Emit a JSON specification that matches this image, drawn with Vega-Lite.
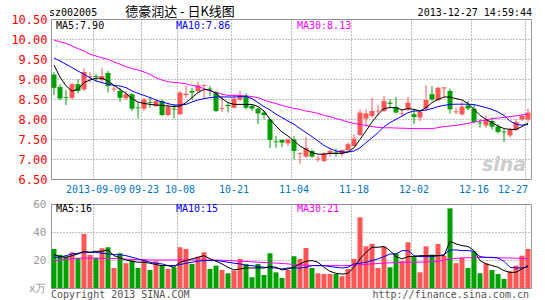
{
  "$schema": "https://vega.github.io/schema/vega-lite/v6.json",
  "background": "white",
  "padding": {"left": 10, "top": 5, "right": 5, "bottom": 4},
  "bounds": "flush",
  "spacing": 25,
  "config": {
    "view": {"stroke": "#999999", "strokeWidth": 1},
    "axis": {"domain": false, "ticks": false, "tickSize": 0, "title": null, "gridDash": [1, 2], "gridColor": "#808080", "gridOpacity": 1, "gridWidth": 1, "labelFont": "DejaVu Sans Mono", "labelOverlap": false},
    "text": {"font": "DejaVu Sans Mono", "fontSize": 10, "baseline": "middle"}
  },
  "datasets": {
    "k": [
      {"d":"2013-08-29","o":9.11,"h":9.17,"l":8.60,"c":8.78,"v":27.9,"m5":9.35,"m10":9.53,"m30":9.975,"vm5":23.8,"vm10":22.0,"vm30":19.5},
      {"d":"2013-08-30","o":8.80,"h":8.87,"l":8.47,"c":8.51,"v":23.8,"m5":9.05,"m10":9.45,"m30":9.93,"vm5":22.4,"vm10":22.0,"vm30":20.0},
      {"d":"2013-09-02","o":8.55,"h":8.72,"l":8.35,"c":8.53,"v":22.4,"m5":8.83,"m10":9.37,"m30":9.89,"vm5":21.9,"vm10":23.1,"vm30":20.5},
      {"d":"2013-09-03","o":8.53,"h":8.91,"l":8.49,"c":8.87,"v":25.5,"m5":8.70,"m10":9.285,"m30":9.825,"vm5":23.1,"vm10":24.3,"vm30":21.0},
      {"d":"2013-09-04","o":8.87,"h":8.99,"l":8.64,"c":8.70,"v":21.5,"m5":8.74,"m10":9.20,"m30":9.76,"vm5":24.3,"vm10":24.8,"vm30":21.2},
      {"d":"2013-09-05","o":8.74,"h":9.27,"l":8.70,"c":9.175,"v":38.6,"m5":8.91,"m10":9.115,"m30":9.70,"vm5":26.2,"vm10":25.5,"vm30":21.4},
      {"d":"2013-09-06","o":9.05,"h":9.175,"l":8.91,"c":9.07,"v":23.6,"m5":8.975,"m10":9.03,"m30":9.62,"vm5":25.5,"vm10":25.5,"vm30":21.4},
      {"d":"2013-09-09","o":9.07,"h":9.13,"l":8.93,"c":9.05,"v":21.5,"m5":9.02,"m10":8.95,"m30":9.575,"vm5":26.2,"vm10":25.5,"vm30":21.4},
      {"d":"2013-09-10","o":8.975,"h":9.28,"l":8.93,"c":9.075,"v":28.4,"m5":9.02,"m10":8.91,"m30":9.53,"vm5":26.2,"vm10":24.8,"vm30":21.2},
      {"d":"2013-09-11","o":9.15,"h":9.20,"l":8.66,"c":8.825,"v":29.1,"m5":8.95,"m10":8.87,"m30":9.49,"vm5":27.2,"vm10":24.3,"vm30":21.2},
      {"d":"2013-09-12","o":8.74,"h":8.84,"l":8.68,"c":8.76,"v":14.3,"m5":8.84,"m10":8.84,"m30":9.425,"vm5":23.1,"vm10":23.8,"vm30":21.0},
      {"d":"2013-09-13","o":8.70,"h":8.78,"l":8.43,"c":8.53,"v":24.8,"m5":8.74,"m10":8.825,"m30":9.37,"vm5":21.5,"vm10":23.8,"vm30":20.8},
      {"d":"2013-09-16","o":8.52,"h":8.70,"l":8.47,"c":8.62,"v":17.7,"m5":8.64,"m10":8.785,"m30":9.31,"vm5":20.0,"vm10":23.1,"vm30":20.6},
      {"d":"2013-09-17","o":8.62,"h":8.64,"l":8.20,"c":8.26,"v":19.6,"m5":8.51,"m10":8.70,"m30":9.26,"vm5":19.1,"vm10":22.0,"vm30":20.4},
      {"d":"2013-09-18","o":8.29,"h":8.41,"l":8.01,"c":8.27,"v":14.3,"m5":8.425,"m10":8.64,"m30":9.225,"vm5":18.4,"vm10":20.8,"vm30":20.2},
      {"d":"2013-09-23","o":8.26,"h":8.53,"l":8.20,"c":8.49,"v":20.8,"m5":8.39,"m10":8.59,"m30":9.175,"vm5":18.4,"vm10":19.6,"vm30":20.0},
      {"d":"2013-09-24","o":8.42,"h":8.55,"l":8.28,"c":8.40,"v":12.9,"m5":8.365,"m10":8.535,"m30":9.115,"vm5":17.7,"vm10":18.4,"vm30":20.0},
      {"d":"2013-09-25","o":8.32,"h":8.49,"l":8.31,"c":8.45,"v":19.1,"m5":8.35,"m10":8.475,"m30":9.03,"vm5":16.7,"vm10":17.7,"vm30":20.0},
      {"d":"2013-09-26","o":8.45,"h":8.49,"l":8.07,"c":8.10,"v":16.0,"m5":8.34,"m10":8.425,"m30":8.975,"vm5":16.0,"vm10":17.2,"vm30":20.0},
      {"d":"2013-09-27","o":8.10,"h":8.41,"l":8.07,"c":8.30,"v":13.6,"m5":8.325,"m10":8.385,"m30":8.93,"vm5":16.0,"vm10":16.0,"vm30":20.0},
      {"d":"2013-09-30","o":8.26,"h":8.37,"l":8.01,"c":8.24,"v":14.8,"m5":8.31,"m10":8.35,"m30":8.915,"vm5":14.8,"vm10":16.0,"vm30":20.0},
      {"d":"2013-10-08","o":8.12,"h":8.70,"l":8.10,"c":8.66,"v":29.1,"m5":8.325,"m10":8.35,"m30":8.90,"vm5":18.4,"vm10":16.7,"vm30":20.0},
      {"d":"2013-10-09","o":8.60,"h":8.83,"l":8.53,"c":8.63,"v":27.9,"m5":8.41,"m10":8.365,"m30":8.88,"vm5":19.6,"vm10":17.7,"vm30":20.0},
      {"d":"2013-10-10","o":8.70,"h":8.78,"l":8.49,"c":8.66,"v":17.2,"m5":8.535,"m10":8.425,"m30":8.84,"vm5":20.8,"vm10":18.4,"vm30":20.0},
      {"d":"2013-10-11","o":8.70,"h":8.925,"l":8.66,"c":8.84,"v":22.4,"m5":8.66,"m10":8.475,"m30":8.81,"vm5":21.9,"vm10":19.1,"vm30":20.0},
      {"d":"2013-10-14","o":8.83,"h":8.87,"l":8.51,"c":8.85,"v":25.5,"m5":8.74,"m10":8.51,"m30":8.76,"vm5":23.1,"vm10":19.6,"vm30":20.0},
      {"d":"2013-10-15","o":8.76,"h":8.83,"l":8.575,"c":8.74,"v":13.6,"m5":8.725,"m10":8.535,"m30":8.70,"vm5":20.8,"vm10":19.6,"vm30":20.0},
      {"d":"2013-10-16","o":8.675,"h":8.70,"l":8.175,"c":8.20,"v":16.0,"m5":8.64,"m10":8.55,"m30":8.66,"vm5":19.1,"vm10":19.6,"vm30":20.0},
      {"d":"2013-10-17","o":8.25,"h":8.575,"l":8.175,"c":8.27,"v":12.9,"m5":8.51,"m10":8.55,"m30":8.62,"vm5":17.2,"vm10":19.1,"vm30":19.8},
      {"d":"2013-10-18","o":8.35,"h":8.41,"l":8.16,"c":8.32,"v":10.5,"m5":8.41,"m10":8.55,"m30":8.59,"vm5":14.8,"vm10":18.4,"vm30":19.6},
      {"d":"2013-10-21","o":8.28,"h":8.62,"l":8.26,"c":8.51,"v":12.4,"m5":8.365,"m10":8.55,"m30":8.59,"vm5":12.9,"vm10":17.7,"vm30":19.4},
      {"d":"2013-10-22","o":8.49,"h":8.70,"l":8.45,"c":8.59,"v":20.8,"m5":8.365,"m10":8.56,"m30":8.59,"vm5":13.6,"vm10":17.2,"vm30":19.2},
      {"d":"2013-10-23","o":8.59,"h":8.64,"l":8.24,"c":8.28,"v":17.2,"m5":8.365,"m10":8.56,"m30":8.575,"vm5":14.3,"vm10":16.0,"vm30":19.0},
      {"d":"2013-10-24","o":8.33,"h":8.37,"l":8.20,"c":8.26,"v":7.7,"m5":8.365,"m10":8.51,"m30":8.56,"vm5":14.3,"vm10":16.0,"vm30":18.7},
      {"d":"2013-10-25","o":8.26,"h":8.28,"l":7.87,"c":8.14,"v":17.2,"m5":8.31,"m10":8.41,"m30":8.535,"vm5":14.3,"vm10":15.3,"vm30":18.4},
      {"d":"2013-10-28","o":8.16,"h":8.20,"l":7.99,"c":8.10,"v":9.3,"m5":8.20,"m10":8.31,"m30":8.475,"vm5":14.3,"vm10":14.8,"vm30":18.2},
      {"d":"2013-10-29","o":7.99,"h":8.01,"l":7.27,"c":7.475,"v":24.8,"m5":7.99,"m10":8.225,"m30":8.425,"vm5":15.3,"vm10":14.3,"vm30":18.0},
      {"d":"2013-10-30","o":7.44,"h":7.575,"l":7.28,"c":7.42,"v":11.2,"m5":7.825,"m10":8.12,"m30":8.385,"vm5":14.8,"vm10":14.3,"vm30":17.8},
      {"d":"2013-10-31","o":7.475,"h":7.49,"l":7.30,"c":7.41,"v":7.2,"m5":7.675,"m10":8.035,"m30":8.34,"vm5":12.9,"vm10":13.6,"vm30":17.5},
      {"d":"2013-11-01","o":7.39,"h":7.51,"l":7.33,"c":7.49,"v":12.9,"m5":7.575,"m10":7.95,"m30":8.30,"vm5":13.6,"vm10":14.3,"vm30":17.2},
      {"d":"2013-11-04","o":7.49,"h":7.575,"l":6.99,"c":7.20,"v":22.7,"m5":7.45,"m10":7.87,"m30":8.265,"vm5":14.8,"vm10":14.3,"vm30":16.8},
      {"d":"2013-11-05","o":7.13,"h":7.16,"l":6.88,"c":7.15,"v":20.8,"m5":7.325,"m10":7.76,"m30":8.24,"vm5":17.2,"vm10":14.3,"vm30":16.5},
      {"d":"2013-11-06","o":7.06,"h":7.55,"l":7.03,"c":7.28,"v":28.6,"m5":7.24,"m10":7.66,"m30":8.20,"vm5":19.1,"vm10":14.8,"vm30":16.3},
      {"d":"2013-11-07","o":7.20,"h":7.24,"l":7.03,"c":7.06,"v":14.3,"m5":7.16,"m10":7.56,"m30":8.175,"vm5":19.6,"vm10":16.0,"vm30":16.1},
      {"d":"2013-11-08","o":6.99,"h":7.08,"l":6.925,"c":7.01,"v":10.5,"m5":7.12,"m10":7.45,"m30":8.14,"vm5":18.4,"vm10":16.0,"vm30":16.0},
      {"d":"2013-11-11","o":6.95,"h":7.175,"l":6.925,"c":7.14,"v":10.0,"m5":7.12,"m10":7.34,"m30":8.09,"vm5":14.8,"vm10":16.0,"vm30":16.0},
      {"d":"2013-11-12","o":7.14,"h":7.24,"l":7.06,"c":7.20,"v":10.0,"m5":7.14,"m10":7.26,"m30":8.06,"vm5":11.9,"vm10":15.3,"vm30":16.0},
      {"d":"2013-11-13","o":7.18,"h":7.26,"l":7.06,"c":7.16,"v":10.0,"m5":7.14,"m10":7.20,"m30":8.01,"vm5":10.5,"vm10":14.8,"vm30":16.0},
      {"d":"2013-11-14","o":7.14,"h":7.24,"l":7.06,"c":7.225,"v":8.4,"m5":7.14,"m10":7.175,"m30":7.975,"vm5":10.0,"vm10":14.3,"vm30":16.0},
      {"d":"2013-11-15","o":7.225,"h":7.41,"l":7.20,"c":7.37,"v":13.6,"m5":7.175,"m10":7.175,"m30":7.925,"vm5":10.5,"vm10":14.8,"vm30":16.0},
      {"d":"2013-11-18","o":7.325,"h":7.62,"l":7.31,"c":7.51,"v":20.8,"m5":7.28,"m10":7.20,"m30":7.89,"vm5":14.8,"vm10":17.2,"vm30":16.3},
      {"d":"2013-11-19","o":7.60,"h":8.24,"l":7.575,"c":8.16,"v":50.5,"m5":7.49,"m10":7.28,"m30":7.865,"vm5":20.8,"vm10":17.7,"vm30":16.6},
      {"d":"2013-11-20","o":8.01,"h":8.24,"l":7.81,"c":8.14,"v":29.8,"m5":7.70,"m10":7.41,"m30":7.84,"vm5":25.5,"vm10":18.4,"vm30":16.9},
      {"d":"2013-11-21","o":8.075,"h":8.53,"l":8.035,"c":8.20,"v":31.5,"m5":7.925,"m10":7.53,"m30":7.81,"vm5":29.1,"vm10":19.6,"vm30":17.2},
      {"d":"2013-11-22","o":8.19,"h":8.34,"l":8.075,"c":8.21,"v":14.3,"m5":8.115,"m10":7.66,"m30":7.79,"vm5":29.1,"vm10":20.8,"vm30":17.5},
      {"d":"2013-11-25","o":8.20,"h":8.575,"l":8.175,"c":8.45,"v":29.6,"m5":8.26,"m10":7.81,"m30":7.78,"vm5":29.6,"vm10":22.4,"vm30":17.8},
      {"d":"2013-11-26","o":8.41,"h":8.49,"l":8.28,"c":8.38,"v":14.8,"m5":8.285,"m10":7.91,"m30":7.78,"vm5":26.7,"vm10":24.3,"vm30":18.0},
      {"d":"2013-11-27","o":8.30,"h":8.55,"l":8.14,"c":8.16,"v":24.8,"m5":8.285,"m10":7.99,"m30":7.775,"vm5":22.4,"vm10":24.3,"vm30":18.2},
      {"d":"2013-11-28","o":8.12,"h":8.24,"l":8.075,"c":8.14,"v":19.1,"m5":8.225,"m10":8.075,"m30":7.77,"vm5":20.8,"vm10":26.7,"vm30":18.4},
      {"d":"2013-11-29","o":8.24,"h":8.55,"l":8.20,"c":8.41,"v":32.7,"m5":8.26,"m10":8.16,"m30":7.765,"vm5":22.4,"vm10":26.7,"vm30":18.4},
      {"d":"2013-12-02","o":8.12,"h":8.24,"l":7.87,"c":8.05,"v":22.0,"m5":8.24,"m10":8.20,"m30":7.76,"vm5":22.4,"vm10":23.1,"vm30":18.4},
      {"d":"2013-12-03","o":8.035,"h":8.20,"l":7.95,"c":8.175,"v":11.2,"m5":8.20,"m10":8.20,"m30":7.76,"vm5":23.1,"vm10":22.4,"vm30":18.5},
      {"d":"2013-12-04","o":8.26,"h":8.84,"l":8.20,"c":8.475,"v":29.8,"m5":8.285,"m10":8.225,"m30":7.76,"vm5":23.1,"vm10":22.4,"vm30":18.6},
      {"d":"2013-12-05","o":8.62,"h":8.825,"l":8.45,"c":8.49,"v":23.8,"m5":8.41,"m10":8.26,"m30":7.76,"vm5":23.1,"vm10":22.4,"vm30":18.8},
      {"d":"2013-12-06","o":8.475,"h":8.80,"l":8.45,"c":8.78,"v":31.5,"m5":8.49,"m10":8.31,"m30":7.785,"vm5":23.1,"vm10":23.1,"vm30":19.2},
      {"d":"2013-12-09","o":8.765,"h":8.79,"l":8.54,"c":8.79,"v":23.1,"m5":8.55,"m10":8.34,"m30":7.81,"vm5":23.1,"vm10":23.8,"vm30":20.0},
      {"d":"2013-12-10","o":8.70,"h":8.76,"l":8.135,"c":8.24,"v":56.9,"m5":8.55,"m10":8.365,"m30":7.825,"vm5":33.4,"vm10":27.2,"vm30":20.8},
      {"d":"2013-12-11","o":8.17,"h":8.28,"l":8.115,"c":8.19,"v":17.7,"m5":8.51,"m10":8.37,"m30":7.84,"vm5":31.5,"vm10":27.2,"vm30":21.2},
      {"d":"2013-12-12","o":8.115,"h":8.425,"l":8.09,"c":8.31,"v":21.5,"m5":8.475,"m10":8.37,"m30":7.865,"vm5":30.3,"vm10":26.7,"vm30":21.5},
      {"d":"2013-12-13","o":8.34,"h":8.45,"l":8.225,"c":8.26,"v":14.3,"m5":8.39,"m10":8.37,"m30":7.89,"vm5":29.6,"vm10":26.7,"vm30":21.6},
      {"d":"2013-12-16","o":8.26,"h":8.37,"l":7.89,"c":7.925,"v":26.2,"m5":8.24,"m10":8.36,"m30":7.925,"vm5":26.7,"vm10":26.2,"vm30":21.7},
      {"d":"2013-12-17","o":7.91,"h":7.99,"l":7.78,"c":7.89,"v":10.5,"m5":8.09,"m10":8.325,"m30":7.95,"vm5":19.6,"vm10":22.4,"vm30":21.8},
      {"d":"2013-12-18","o":7.84,"h":8.09,"l":7.78,"c":7.975,"v":17.7,"m5":7.99,"m10":8.285,"m30":7.975,"vm5":17.2,"vm10":21.9,"vm30":21.8},
      {"d":"2013-12-19","o":7.95,"h":8.035,"l":7.74,"c":7.81,"v":12.9,"m5":7.91,"m10":8.24,"m30":8.01,"vm5":16.0,"vm10":21.9,"vm30":21.7},
      {"d":"2013-12-20","o":7.81,"h":7.87,"l":7.64,"c":7.675,"v":10.0,"m5":7.825,"m10":8.175,"m30":8.025,"vm5":14.8,"vm10":21.4,"vm30":21.6},
      {"d":"2013-12-23","o":7.685,"h":7.74,"l":7.425,"c":7.665,"v":6.5,"m5":7.76,"m10":8.09,"m30":8.04,"vm5":12.4,"vm10":19.1,"vm30":21.5},
      {"d":"2013-12-24","o":7.59,"h":7.785,"l":7.535,"c":7.725,"v":11.9,"m5":7.74,"m10":7.95,"m30":8.06,"vm5":11.2,"vm10":14.8,"vm30":21.4},
      {"d":"2013-12-25","o":7.725,"h":7.99,"l":7.70,"c":7.925,"v":16.0,"m5":7.74,"m10":7.87,"m30":8.08,"vm5":11.2,"vm10":14.3,"vm30":21.3},
      {"d":"2013-12-26","o":7.99,"h":8.12,"l":7.95,"c":8.075,"v":23.1,"m5":7.81,"m10":7.845,"m30":8.10,"vm5":13.6,"vm10":14.3,"vm30":21.2},
      {"d":"2013-12-27","o":7.99,"h":8.26,"l":7.925,"c":8.16,"v":27.9,"m5":7.90,"m10":7.86,"m30":8.13,"vm5":16.0,"vm10":15.2,"vm30":21.1}
    ]
  },
  "vconcat": [
    {
      "width": 480,
      "height": 160,
      "data": {"name": "k"},
      "encoding": {
        "x": {
          "field": "d", "type": "ordinal",
          "scale": {"paddingInner": 0.17, "paddingOuter": 0.085},
          "axis": {
            "values": ["2013-09-09","2013-09-23","2013-10-08","2013-10-21","2013-11-04","2013-11-18","2013-12-02","2013-12-16","2013-12-27"],
            "labelExpr": "datum.value == '2013-09-09' ? datum.value : slice(datum.value, 5)",
            "bandPosition": 0, "grid": true, "labelAngle": 0, "labelOverlap": false,
            "labelColor": "#0078c8", "labelFontSize": 10, "labelPadding": 5,
            "labelAlign": {"condition": {"test": "datum.value == '2013-12-27'", "value": "right"}, "value": "center"}
          }
        }
      },
      "layer": [
        {
          "mark": {"type": "rule", "strokeWidth": 1},
          "encoding": {
            "y": {"field": "l", "type": "quantitative", "scale": {"domain": [6.5, 10.5], "nice": false, "zero": false},
                  "axis": {"values": [6.5, 7, 7.5, 8, 8.5, 9, 9.5, 10, 10.5], "tickCount": 20, "format": ".2f", "grid": true, "labelOverlap": false, "labelColor": "#ff0000", "labelFontSize": 12, "labelPadding": 4}},
            "y2": {"field": "h"},
            "color": {"condition": {"test": "datum.c >= datum.o", "value": "#ff5555"}, "value": "#00a000"}
          }
        },
        {
          "mark": {"type": "bar"},
          "encoding": {
            "y": {"field": "o", "type": "quantitative"},
            "y2": {"field": "c"},
            "color": {"condition": {"test": "datum.c >= datum.o", "value": "#ff5555"}, "value": "#00a000"}
          }
        },
        {"mark": {"type": "line", "color": "#ff00ff", "strokeWidth": 1}, "encoding": {"y": {"field": "m30", "type": "quantitative"}}},
        {"mark": {"type": "line", "color": "#0000ff", "strokeWidth": 1}, "encoding": {"y": {"field": "m10", "type": "quantitative"}}},
        {"mark": {"type": "line", "color": "#000000", "strokeWidth": 1}, "encoding": {"y": {"field": "m5", "type": "quantitative"}}},
        {
          "data": {"values": [{"t": "sina"}]},
          "mark": {"type": "text", "font": "DejaVu Sans", "fontSize": 19, "fontStyle": "italic", "fontWeight": "bold", "color": "#cccccc"},
          "encoding": {"x": {"datum": "2013-12-23"}, "y": {"datum": 6.85}, "text": {"field": "t"}}
        },
        {
          "data": {"values": [{"t": "sz002005"}]},
          "mark": {"type": "text", "align": "left", "dx": -5, "dy": -6, "color": "#000000"},
          "encoding": {"x": {"datum": "2013-08-29"}, "y": {"datum": 10.5}, "text": {"field": "t"}}
        },
        {
          "data": {"values": [{"t": "德豪润达 - 日K线图"}]},
          "mark": {"type": "text", "align": "center", "dy": -7, "font": "Noto Sans CJK SC", "fontSize": 13, "color": "#000000"},
          "encoding": {"x": {"datum": "2013-10-08"}, "y": {"datum": 10.5}, "text": {"field": "t"}}
        },
        {
          "data": {"values": [{"t": "2013-12-27 14:59:44"}]},
          "mark": {"type": "text", "align": "right", "dx": 4, "dy": -6, "color": "#000000"},
          "encoding": {"x": {"datum": "2013-12-27"}, "y": {"datum": 10.5}, "text": {"field": "t"}}
        },
        {
          "data": {"values": [{"t": "MA5:7.90"}]},
          "mark": {"type": "text", "align": "left", "dx": 2, "dy": 7, "color": "#000000"},
          "encoding": {"x": {"datum": "2013-08-29"}, "y": {"datum": 10.5}, "text": {"field": "t"}}
        },
        {
          "data": {"values": [{"t": "MA10:7.86"}]},
          "mark": {"type": "text", "align": "left", "dx": 2, "dy": 7, "color": "#0000ff"},
          "encoding": {"x": {"datum": "2013-09-30"}, "y": {"datum": 10.5}, "text": {"field": "t"}}
        },
        {
          "data": {"values": [{"t": "MA30:8.13"}]},
          "mark": {"type": "text", "align": "left", "dx": 3, "dy": 7, "color": "#ff00ff"},
          "encoding": {"x": {"datum": "2013-11-04"}, "y": {"datum": 10.5}, "text": {"field": "t"}}
        }
      ]
    },
    {
      "width": 480,
      "height": 84,
      "data": {"name": "k"},
      "encoding": {
        "x": {
          "field": "d", "type": "ordinal",
          "scale": {"paddingInner": 0.17, "paddingOuter": 0.085},
          "axis": {
            "values": ["2013-09-09","2013-09-23","2013-10-08","2013-10-21","2013-11-04","2013-11-18","2013-12-02","2013-12-16","2013-12-27"],
            "bandPosition": 0, "grid": true, "labels": false
          }
        }
      },
      "layer": [
        {
          "mark": {"type": "bar"},
          "encoding": {
            "y": {"field": "v", "type": "quantitative", "scale": {"domain": [0, 60], "nice": false},
                  "axis": {"values": [0, 20, 40, 60], "tickCount": 20, "grid": true, "labelOverlap": false, "labelColor": "#999999", "labelFontSize": 11, "labelPadding": 5,
                           "labelExpr": "datum.value == 0 ? 'x万' : datum.label"}},
            "color": {"condition": {"test": "datum.c >= datum.o", "value": "#ff5555"}, "value": "#00a000"}
          }
        },
        {"mark": {"type": "line", "color": "#ff00ff", "strokeWidth": 1}, "encoding": {"y": {"field": "vm30", "type": "quantitative"}}},
        {"mark": {"type": "line", "color": "#0000ff", "strokeWidth": 1}, "encoding": {"y": {"field": "vm10", "type": "quantitative"}}},
        {"mark": {"type": "line", "color": "#000000", "strokeWidth": 1}, "encoding": {"y": {"field": "vm5", "type": "quantitative"}}},
        {
          "data": {"values": [{"t": "MA5:16"}]},
          "mark": {"type": "text", "align": "left", "dx": 2, "dy": 5, "color": "#000000"},
          "encoding": {"x": {"datum": "2013-08-29"}, "y": {"datum": 60}, "text": {"field": "t"}}
        },
        {
          "data": {"values": [{"t": "MA10:15"}]},
          "mark": {"type": "text", "align": "left", "dx": 2, "dy": 5, "color": "#0000ff"},
          "encoding": {"x": {"datum": "2013-09-30"}, "y": {"datum": 60}, "text": {"field": "t"}}
        },
        {
          "data": {"values": [{"t": "MA30:21"}]},
          "mark": {"type": "text", "align": "left", "dx": 3, "dy": 5, "color": "#ff00ff"},
          "encoding": {"x": {"datum": "2013-11-04"}, "y": {"datum": 60}, "text": {"field": "t"}}
        },
        {
          "data": {"values": [{"t": "Copyright 2013 SINA.COM"}]},
          "mark": {"type": "text", "align": "left", "dx": -3, "dy": 7, "color": "#555555"},
          "encoding": {"x": {"datum": "2013-08-29"}, "y": {"datum": 0}, "text": {"field": "t"}}
        },
        {
          "data": {"values": [{"t": "http://finance.sina.com.cn"}]},
          "mark": {"type": "text", "align": "right", "dx": 1, "dy": 7, "color": "#555555"},
          "encoding": {"x": {"datum": "2013-12-27"}, "y": {"datum": 0}, "text": {"field": "t"}}
        }
      ]
    }
  ]
}
